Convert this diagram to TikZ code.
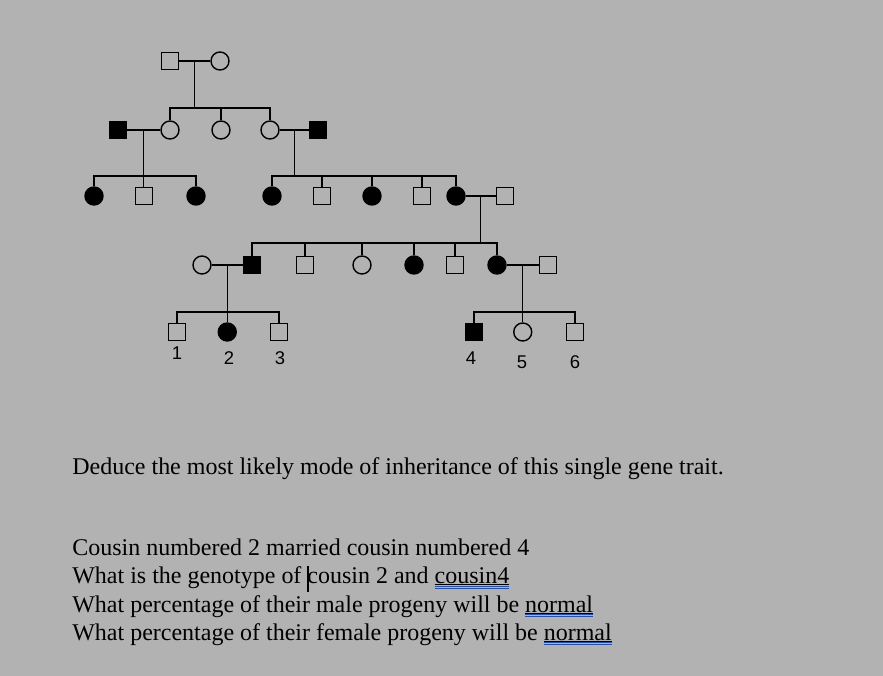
\documentclass[tikz,border=0pt]{standalone}
\usepackage{fontspec}
\setmainfont{Liberation Serif}
\newfontfamily\labelfont{Liberation Sans}
\usepackage{xcolor}
\usepackage{tikz}
\usetikzlibrary{positioning, calc}

\definecolor{pagegray}{RGB}{178,178,178}
\definecolor{markblue}{RGB}{40,80,165}

\newcommand{\spellmark}[1]{%
  \setbox0\hbox{#1}%
  \rlap{\rule[-0.9pt]{\wd0}{0.5pt}}%
  \rlap{\color{markblue}\rule[-1.8pt]{\wd0}{0.55pt}}%
  \rlap{\color{markblue}\rule[-2.9pt]{\wd0}{0.55pt}}%
  \box0}
\newcommand{\caret}{\rlap{\rule[-4.7pt]{0.8pt}{14.8pt}}}

\begin{document}
\begin{tikzpicture}[
  x=0.02cm, y=-0.02cm,
  male/.style={rectangle, draw, line width=0.8pt,
               minimum size=0.34cm, inner sep=0pt},
  female/.style={circle, draw, line width=0.8pt,
                 minimum size=0.36cm, inner sep=0pt},
  affected/.style={fill=black},
  line/.style={line width=0.8pt},
  num/.style={font=\labelfont\fontsize{10.5}{12}\selectfont, inner sep=0pt},
  question/.style={anchor=base west, inner sep=0pt,
                   font=\fontsize{13.65}{16}\selectfont}
]
  \fill[pagegray] (0,0) rectangle (883,676);
  \useasboundingbox (0,0) rectangle (883,676);

  % generation I
  \node[male] (gm) at (170,61) {};
  \node[female] (gf) at (220,61) {};
  \draw[line] (gm) -- coordinate (m1) (gf);

  % generation II
  \node[male, affected] (a2) at (118,130) {};
  \node[female] (b2) at (170,130) {};
  \node[female] (c2) at (221,130) {};
  \node[female] (d2) at (270,130) {};
  \node[male, affected] (e2) at (318,130) {};
  \coordinate (s1) at (m1 |- 0,108);
  \draw[line] (m1) -- (s1);
  \draw[line] (b2.north) |- (s1) -| (d2.north);
  \draw[line] (c2.north) -- (c2.north |- s1);
  \draw[line] (a2) -- coordinate (m2) (b2);
  \draw[line] (d2) -- coordinate (m3) (e2);

  % generation III
  \node[female, affected] (a3) at (94,196) {};
  \node[male] (b3) at (m2 |- 0,196) {};
  \node[female, affected] (c3) at (196,196) {};
  \coordinate (s2) at (m2 |- 0,176);
  \draw[line] (m2) -- (b3);
  \draw[line] (a3.north) |- (s2) -| (c3.north);

  \node[female, affected] (d3) at (272,196) {};
  \node[male] (e3) at (322,196) {};
  \node[female, affected] (f3) at (372,196) {};
  \node[male] (g3) at (422,196) {};
  \node[female, affected] (h3) at (456,196) {};
  \node[male] (i3) at (505,196) {};
  \coordinate (s3) at (m3 |- 0,176);
  \draw[line] (m3) -- (s3);
  \draw[line] (d3.north) |- (s3) -| (h3.north);
  \foreach \kid in {e3, f3, g3}
    \draw[line] (\kid.north) -- (\kid.north |- s3);
  \draw[line] (h3) -- coordinate (m4) (i3);

  % generation IV
  \node[female] (a4) at (202,265) {};
  \node[male, affected] (b4) at (252,265) {};
  \node[male] (c4) at (305,265) {};
  \node[female] (d4) at (362,265) {};
  \node[female, affected] (e4) at (414,265) {};
  \node[male] (f4) at (455,265) {};
  \node[female, affected] (g4) at (497,265) {};
  \node[male] (h4) at (548,265) {};
  \coordinate (s4) at (m4 |- 0,243);
  \draw[line] (m4) -- (s4);
  \draw[line] (b4.north) |- (s4) -| (g4.north);
  \foreach \kid in {c4, d4, e4, f4}
    \draw[line] (\kid.north) -- (\kid.north |- s4);
  \draw[line] (a4) -- coordinate (m5) (b4);
  \draw[line] (g4) -- coordinate (m6) (h4);

  % generation V, the cousins
  \node[male] (v1) at (177,332) {};
  \node[female, affected] (v2) at (m5 |- 0,332) {};
  \node[male] (v3) at (279,332) {};
  \coordinate (s5) at (m5 |- 0,312);
  \draw[line] (m5) -- (v2);
  \draw[line] (v1.north) |- (s5) -| (v3.north);

  \node[male, affected] (v4) at (474,332) {};
  \node[female] (v5) at (m6 |- 0,332) {};
  \node[male] (v6) at (575,332) {};
  \coordinate (s6) at (m6 |- 0,312);
  \draw[line] (m6) -- (v5);
  \draw[line] (v4.north) |- (s6) -| (v6.north);

  \node[num] (n1) at (177,353) {1};
  \node[num] (n2) at (229,358) {2};
  \node[num] (n3) at (280,358) {3};
  \node[num] (n4) at (471,358) {4};
  \node[num] (n5) at (522,362) {5};
  \node[num] (n6) at (575,362) {6};

  % question text
  \node[question] (q0) at (72,474)
    {Deduce the most likely mode of inheritance of this single gene trait.};
  \node[question] (q1) at (72,555)
    {Cousin numbered 2 married cousin numbered 4};
  \node[question] (q2) at (72,583.5)
    {What is the genotype of \caret cousin 2 and \spellmark{cousin4}};
  \node[question] (q3) at (72,612)
    {What percentage of their male progeny will be \spellmark{normal}};
  \node[question] (q4) at (72,640)
    {What percentage of their female progeny will be \spellmark{normal}};
\end{tikzpicture}
\end{document}
